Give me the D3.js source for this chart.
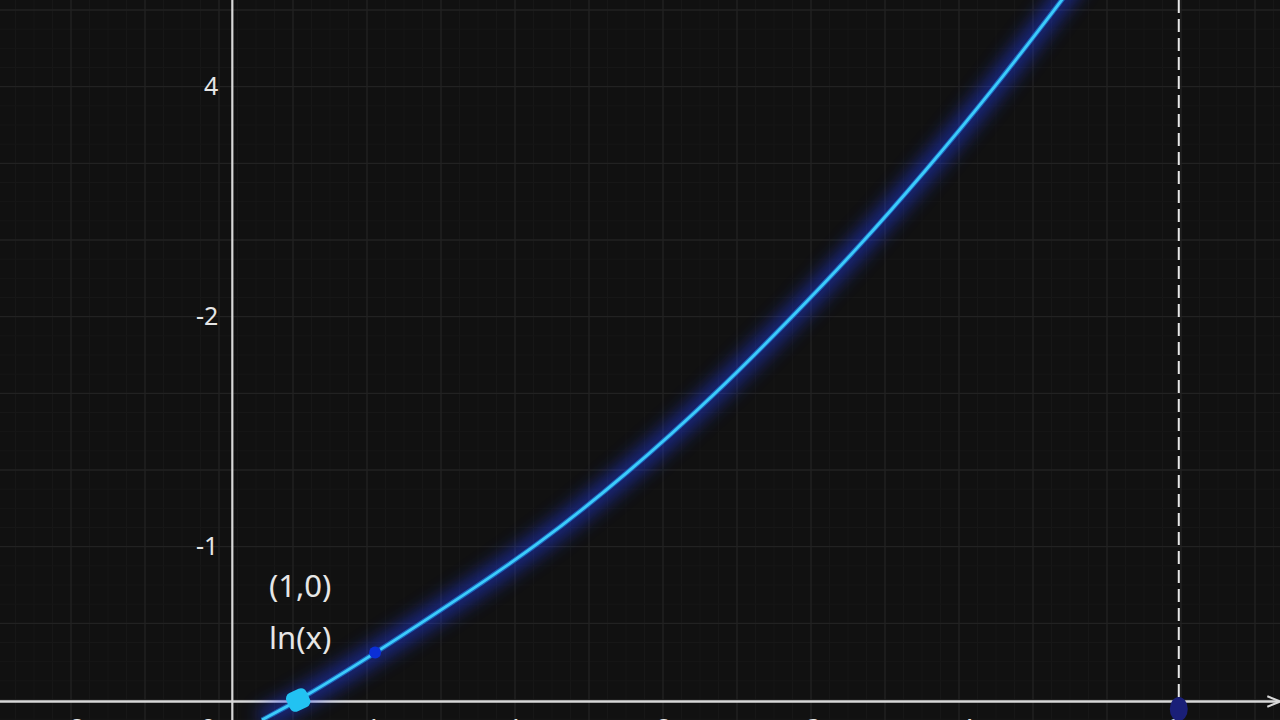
<!DOCTYPE html>
<html>
<head>
<meta charset="utf-8">
<script src="https://cdn.jsdelivr.net/npm/d3@7"></script>
<style>
  html, body { margin: 0; padding: 0; background: #111111; overflow: hidden; }
  svg { display: block; font-family: "Noto Sans", "DejaVu Sans", sans-serif; }
</style>
</head>
<body>
<div id="chart"></div>
<script>
// grid units: vertical grid lines sit on whole x values, horizontal ones on whole y values
const xTickValues = [0.08, 1.85, 4.08, 6.0, 8.01, 10.03, 12.1, 14.92];
const xTickLabels = ["2", "0", "1", "1", "2", "3", "4", "2"];
const yTickValues = [2, 5, 8];
const yTickLabels = ["-1", "-2", "4"];

const curveX = [2.58, 3.09, 4.11, 5.12, 6.30, 7.53, 8.70, 9.72, 10.62, 11.54, 12.46, 13.39, 13.6];
const curveY = [-0.26, 0, 0.61, 1.25, 2.01, 2.96, 3.98, 4.97, 5.88, 6.89, 7.96, 9.13, 9.4];

const pointLabels = ["(1,0)", "ln(x)"];
const originPoint = { x: 3.07, y: 0 };
const midPoint = { x: 4.11, y: 0.62 };
const asymptoteX = 14.97;

const width = 1280;
const height = 720;

const x = d3.scaleLinear().domain([0, 17]).range([71, 71 + 17 * 74]);
const y = d3.scaleLinear().domain([0, 9]).range([700, 10]);
const yAxisAt = 2.18;

const svg = d3.select("#chart")
    .append("svg")
    .attr("width", width)
    .attr("height", height);

svg.append("rect")
    .attr("width", width)
    .attr("height", height)
    .attr("fill", "#111111");

const defs = svg.append("defs");
const glow = defs.append("filter")
    .attr("id", "glow")
    .attr("x", "-20%").attr("y", "-20%")
    .attr("width", "140%").attr("height", "140%");
glow.append("feGaussianBlur").attr("stdDeviation", 9);

defs.append("marker")
    .attr("id", "arrow")
    .attr("viewBox", "0 0 10 10")
    .attr("refX", 9).attr("refY", 5)
    .attr("markerWidth", 5).attr("markerHeight", 5)
    .attr("orient", "auto")
    .append("path")
    .attr("d", "M0,1 L10,5 L0,9")
    .attr("fill", "none")
    .attr("stroke", "#d8d8d8")
    .attr("stroke-width", 1.6);

// minor grid
const minorX = d3.range(-1, 18, 0.25);
const minorY = d3.range(-1, 10, 0.25);
svg.append("g")
    .selectAll("line")
    .data(minorX)
    .enter().append("line")
    .attr("x1", d => x(d)).attr("x2", d => x(d))
    .attr("y1", 0).attr("y2", height)
    .attr("stroke", "#171717").attr("stroke-width", 1);
svg.append("g")
    .selectAll("line")
    .data(minorY)
    .enter().append("line")
    .attr("y1", d => y(d)).attr("y2", d => y(d))
    .attr("x1", 0).attr("x2", width)
    .attr("stroke", "#171717").attr("stroke-width", 1);

// major grid
svg.append("g")
    .selectAll("line")
    .data(d3.range(-1, 18))
    .enter().append("line")
    .attr("x1", d => x(d)).attr("x2", d => x(d))
    .attr("y1", 0).attr("y2", height)
    .attr("stroke", "#222222").attr("stroke-width", 1.3);
svg.append("g")
    .selectAll("line")
    .data(d3.range(0, 10))
    .enter().append("line")
    .attr("y1", d => y(d)).attr("y2", d => y(d))
    .attr("x1", 0).attr("x2", width)
    .attr("stroke", "#222222").attr("stroke-width", 1.3);

// dashed vertical line
svg.append("line")
    .attr("x1", x(asymptoteX)).attr("x2", x(asymptoteX))
    .attr("y1", 0).attr("y2", y(0))
    .attr("stroke", "#e8e8e8")
    .attr("stroke-width", 2)
    .attr("stroke-dasharray", "13,6");

// axes
svg.append("line")
    .attr("x1", x(yAxisAt)).attr("x2", x(yAxisAt))
    .attr("y1", 0).attr("y2", height)
    .attr("stroke", "#d8d8d8").attr("stroke-width", 2.2);
svg.append("line")
    .attr("x1", 0).attr("x2", width - 1)
    .attr("y1", y(0) + 1.5).attr("y2", y(0) + 1.5)
    .attr("stroke", "#d8d8d8").attr("stroke-width", 2.6)
    .attr("marker-end", "url(#arrow)");

// y tick labels
const yAxis = d3.axisLeft(y)
    .tickValues(yTickValues)
    .tickFormat((d, i) => yTickLabels[i])
    .tickSize(0)
    .tickPadding(14);
const gy = svg.append("g")
    .attr("transform", `translate(${x(yAxisAt)},0)`)
    .call(yAxis);
gy.select(".domain").remove();
gy.selectAll("text")
    .attr("fill", "#e6e6e6")
    .attr("font-size", 25)
    .attr("font-family", "'Noto Sans', sans-serif");

// x tick labels (mostly below the frame, as in the picture)
const xAxis = d3.axisBottom(x)
    .tickValues(xTickValues)
    .tickFormat((d, i) => xTickLabels[i])
    .tickSize(0)
    .tickPadding(19);
const gx = svg.append("g")
    .attr("transform", `translate(0,${y(0)})`)
    .call(xAxis);
gx.select(".domain").remove();
gx.selectAll("text")
    .attr("fill", "#e6e6e6")
    .attr("font-size", 25)
    .attr("font-family", "'Noto Sans', sans-serif");

// curve
const curveData = curveX.map((d, i) => ({ x: d, y: curveY[i] }));
const line = d3.line()
    .x(d => x(d.x))
    .y(d => y(d.y))
    .curve(d3.curveBasis);

svg.append("path")
    .datum(curveData)
    .attr("d", line)
    .attr("fill", "none")
    .attr("stroke", "#2040ff")
    .attr("stroke-width", 20)
    .attr("opacity", 0.5)
    .attr("filter", "url(#glow)");
svg.append("path")
    .datum(curveData)
    .attr("d", line)
    .attr("fill", "none")
    .attr("stroke", "#1e90f0")
    .attr("stroke-width", 5)
    .attr("opacity", 0.6);
svg.append("path")
    .datum(curveData)
    .attr("d", line)
    .attr("fill", "none")
    .attr("stroke", "#3cccfa")
    .attr("stroke-width", 2.8);

// points
svg.append("rect")
    .attr("x", x(originPoint.x) - 11)
    .attr("y", y(originPoint.y) - 10)
    .attr("width", 22).attr("height", 20)
    .attr("rx", 6)
    .attr("fill", "#22c2f2")
    .attr("transform", `rotate(-25,${x(originPoint.x)},${y(originPoint.y)})`);
svg.append("circle")
    .attr("cx", x(midPoint.x)).attr("cy", y(midPoint.y))
    .attr("r", 6)
    .attr("fill", "#0b2fd6");
svg.append("ellipse")
    .attr("cx", x(asymptoteX)).attr("cy", y(0) + 9)
    .attr("rx", 9).attr("ry", 12)
    .attr("fill", "#1a1f78");

// labels
svg.selectAll("text.pt")
    .data(pointLabels)
    .enter().append("text")
    .attr("class", "pt")
    .attr("x", x(originPoint.x) + 2)
    .attr("y", (d, i) => y(originPoint.y) - 103 + i * 52)
    .attr("text-anchor", "middle")
    .attr("fill", "#e6e6e6")
    .attr("font-size", 31)
    .text(d => d);
</script>
</body>
</html>
